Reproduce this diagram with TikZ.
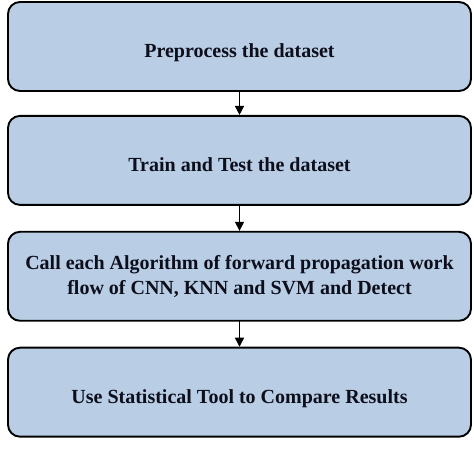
\documentclass[tikz,border=0pt]{standalone}
\usepackage{fontspec}
\setmainfont{Liberation Serif}
\usetikzlibrary{positioning,arrows.meta}
\definecolor{boxblue}{RGB}{185,205,228}
\definecolor{inkblue}{RGB}{12,14,28}
\begin{document}
\begin{tikzpicture}[line join=round, line cap=round,>={Triangle[length=9pt,width=9pt]},x=1pt,y=1pt]
	\tikzset{stepbox/.style={draw=black,line width=1.9pt,fill=boxblue,rounded corners=12pt,
			minimum width=463pt,minimum height=89pt,align=center,text=inkblue,
			font=\fontsize{20}{25}\selectfont\bfseries},
		lowtext/.style={text height=27pt,text depth=4pt}}
	\useasboundingbox (0,0) rectangle (474,462);
	\node[stepbox,lowtext] (pre) at (239.5,415.5) {Preprocess the dataset};
	\node[stepbox,lowtext,below=23pt of pre] (train) {Train and Test the dataset};
	\node[stepbox,below=25pt of train] (algo) {Call each Algorithm of forward propagation work\\flow of CNN, KNN and SVM and Detect};
	\node[stepbox,lowtext,below=25pt of algo] (stat) {Use Statistical Tool to Compare Results};
	% arrows between the steps
	\foreach \a/\b in {pre/train,train/algo,algo/stat}
	\draw[->,line width=1.4pt] (\a.south)--(\b.north);
\end{tikzpicture}
\end{document}
